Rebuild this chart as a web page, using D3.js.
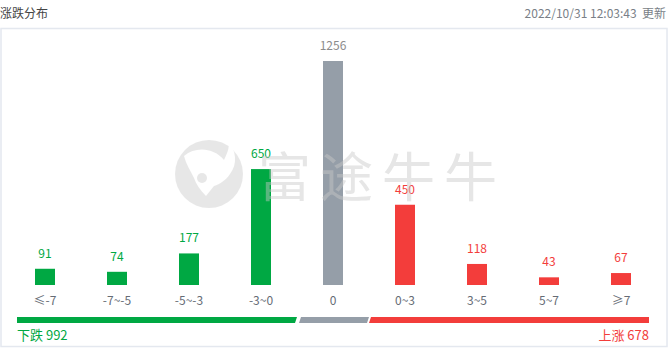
<!DOCTYPE html>
<html>
<head>
<meta charset="utf-8">
<script src="https://cdn.jsdelivr.net/npm/d3@7"></script>
<style>
  html, body { margin: 0; padding: 0; background: #fff; }
  svg { display: block; }
</style>
</head>
<body>
<script>
const width = 668;
const height = 349;
const font = "'Noto Sans CJK SC', 'Noto Sans', sans-serif";

// datos
const categories = ["≤-7", "-7~-5", "-5~-3", "-3~0", "0", "0~3", "3~5", "5~7", "≥7"];
const counts = [91, 74, 177, 650, 1256, 450, 118, 43, 67];
const groups = ["down", "down", "down", "down", "flat", "up", "up", "up", "up"];
const summaryLabels = ["下跌", "上涨"];
const summaryValues = [992, 678];
const title = "涨跌分布";
const updated = "2022/10/31 12:03:43  更新";

const colors = {down: "#00a843", flat: "#959ea8", up: "#f33d3b"};
const labelColors = {down: "#00a843", flat: "#8c8c8c", up: "#f33d3b"};

const svg = d3.select("body").append("svg")
  .attr("width", width)
  .attr("height", height);

// cabecera
svg.append("text")
  .attr("x", 0).attr("y", 18)
  .style("font-family", font).style("font-size", "12px")
  .attr("fill", "#444")
  .text(title);

svg.append("text")
  .attr("x", 666).attr("y", 18)
  .attr("text-anchor", "end")
  .style("font-family", font).style("font-size", "12px")
  .attr("fill", "#7a7f87")
  .style("white-space", "pre")
  .text(updated);

// marco
svg.append("rect")
  .attr("x", 1).attr("y", 28.5)
  .attr("width", 666).attr("height", 318)
  .attr("fill", "none")
  .attr("stroke", "#e4e8ef")
  .attr("stroke-width", 1.5);

// escalas
const x = d3.scaleBand().domain(categories).range([9, 657]).paddingInner(0);
const y = d3.scaleLinear().domain([0, 1256]).range([285, 61]);
const barW = 20;

const rows = categories.map((c, i) => ({cat: c, value: counts[i], group: groups[i]}));

svg.append("g").selectAll("rect")
  .data(rows)
  .join("rect")
  .attr("x", d => x(d.cat) + (x.bandwidth() - barW) / 2)
  .attr("y", d => y(d.value))
  .attr("width", barW)
  .attr("height", d => y(0) - y(d.value))
  .attr("fill", d => colors[d.group]);

// valores
svg.append("g").selectAll("text")
  .data(rows)
  .join("text")
  .attr("x", d => x(d.cat) + x.bandwidth() / 2)
  .attr("y", d => y(d.value) - 11)
  .attr("text-anchor", "middle")
  .style("font-family", font).style("font-size", "12px")
  .attr("fill", d => labelColors[d.group])
  .text(d => d.value);

// categorias
svg.append("g").selectAll("text")
  .data(rows)
  .join("text")
  .attr("x", d => x(d.cat) + x.bandwidth() / 2)
  .attr("y", 305)
  .attr("text-anchor", "middle")
  .style("font-family", font).style("font-size", "12px")
  .attr("fill", "#666c75")
  .text(d => d.cat);

// barra resumen (segmentos inclinados)
const segs = [
  {x0: 17, x1: 297, color: colors.down, slantLeft: false, slantRight: true},
  {x0: 299, x1: 369, color: colors.flat, slantLeft: true, slantRight: true},
  {x0: 369, x1: 649, color: colors.up, slantLeft: true, slantRight: false}
];
const sy0 = 317, sy1 = 323, sk = 2;
svg.append("g").selectAll("path")
  .data(segs)
  .join("path")
  .attr("d", d => {
    const lt = d.slantLeft ? d.x0 + sk : d.x0;
    const rb = d.slantRight ? d.x1 - sk : d.x1;
    return `M${lt},${sy0}L${d.x1},${sy0}L${rb},${sy1}L${d.x0},${sy1}Z`;
  })
  .attr("fill", d => d.color);

svg.append("text")
  .attr("x", 17).attr("y", 340)
  .style("font-family", font).style("font-size", "13px")
  .attr("fill", colors.down)
  .text(`${summaryLabels[0]} ${summaryValues[0]}`);

svg.append("text")
  .attr("x", 649).attr("y", 340)
  .attr("text-anchor", "end")
  .style("font-family", font).style("font-size", "13px")
  .attr("fill", colors.up)
  .text(`${summaryLabels[1]} ${summaryValues[1]}`);

// marca de agua
const wm = svg.append("g").attr("opacity", 0.45);
wm.append("circle")
  .attr("cx", 209).attr("cy", 174).attr("r", 34)
  .attr("fill", "#ccc");
wm.append("path")
  .attr("d", "M184,156 C196,146 214,148 224,160 C228,152 230,146 228,140 C236,150 238,164 230,174 C226,180 220,184 214,186 L206,196 C200,190 196,184 194,178 C190,170 186,164 184,156 Z")
  .attr("fill", "#fff");
wm.append("circle")
  .attr("cx", 202).attr("cy", 178).attr("r", 5)
  .attr("fill", "#ccc");
wm.append("text")
  .attr("x", 258).attr("y", 197)
  .style("font-family", font).style("font-size", "53px")
  .style("letter-spacing", "9px")
  .attr("fill", "#c8c8c8")
  .text("富途牛牛");
</script>
</body>
</html>
